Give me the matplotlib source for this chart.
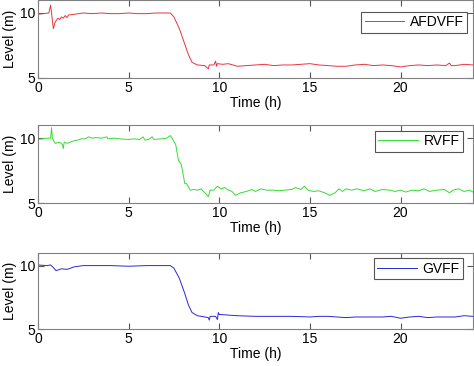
import matplotlib.pyplot as plt

# AFDVFF (red)
t_afd = [0, 0.3, 0.6, 0.7, 0.75, 0.85, 0.95, 1.1, 1.2, 1.3, 1.4, 1.5, 1.6, 1.7, 2.0,
         2.5, 3, 3.5, 4, 4.5, 5, 5.5, 6, 6.5, 7, 7.3, 7.5, 7.8, 8.1, 8.3, 8.5, 8.8,
         9.2, 9.4, 9.45, 9.7, 9.8, 9.85, 9.9, 10.2, 10.5, 11, 11.5, 12, 12.5, 13,
         13.5, 14, 14.5, 15, 15.5, 16, 16.5, 17, 17.5, 18, 18.5, 19, 19.5, 20,
         20.5, 21, 21.5, 22, 22.5, 22.7, 22.8, 23, 23.5, 24]
lvl_afd = [9.9, 9.95, 10.0, 10.6, 10.0, 8.8, 9.3, 9.6, 9.5, 9.7, 9.6, 9.8, 9.65, 9.85, 9.9,
           10.0, 9.95, 10.0, 9.95, 9.95, 10.0, 9.95, 9.95, 10.0, 10.0, 10.0, 9.7, 8.8, 7.6, 6.8, 6.2, 6.0,
           5.95, 5.7, 6.0, 6.0, 6.3, 5.9, 6.1, 6.05, 6.1, 5.9, 5.95, 6.0, 6.05, 5.95,
           6.0, 6.0, 6.05, 6.1, 6.0, 5.95, 5.9, 5.9, 6.0, 6.05, 5.95, 6.0, 5.95, 5.85,
           5.95, 6.0, 5.95, 6.0, 5.95, 6.15, 5.95, 5.95, 6.05, 6.0]

# RVFF (green)
t_rv = [0, 0.5, 0.7, 0.75, 0.8, 0.95, 1.2, 1.35, 1.4, 1.45, 1.6, 2.0, 2.2, 2.4, 2.6, 2.8,
        3.0, 3.2, 3.5, 3.8, 3.85, 4.2, 4.5, 5, 5.3, 5.6, 5.8, 5.9, 6.1, 6.3, 6.4, 6.8,
        7.1, 7.3, 7.4, 7.6, 7.75, 7.9, 8.0, 8.1, 8.2, 8.4, 8.6, 8.8, 9.0, 9.2, 9.4, 9.5,
        9.7, 9.9, 10.1, 10.3, 10.5, 10.7, 10.9, 11.2, 11.5, 11.8, 12, 12.3, 12.6, 13,
        13.3, 13.6, 14, 14.2, 14.5, 14.7, 14.9, 15.2, 15.5, 15.8, 16.1, 16.4, 16.6,
        16.8, 17.0, 17.3, 17.6, 18.0, 18.3, 18.6, 19.0, 19.4, 19.7, 20.0, 20.3, 20.6,
        21, 21.3, 21.6, 22.0, 22.4, 22.7, 22.9, 23.2, 23.5, 23.8, 24]
lvl_rv = [9.9, 10.0, 10.0, 10.8, 10.0, 9.6, 9.7, 9.5, 9.2, 9.7, 9.6, 9.8, 9.85, 9.95, 9.95, 10.1,
          10.0, 10.05, 10.0, 10.1, 9.95, 10.0, 9.95, 9.9, 9.95, 9.9, 10.1, 9.85, 9.9, 10.1, 9.9, 9.95,
          10.0, 10.2, 10.0, 9.5, 8.3, 8.0, 7.3, 6.5, 6.5, 6.0, 6.05, 6.0, 6.1, 5.8, 5.5, 6.0,
          6.0, 6.3, 6.1, 6.2, 6.0, 5.9, 5.6, 5.8, 5.9, 6.05, 5.9, 6.1, 6.0, 6.0,
          5.95, 6.0, 6.05, 6.2, 6.05, 6.3, 6.0, 5.9, 5.95, 5.8, 5.6, 5.8, 6.1,
          5.9, 6.1, 6.0, 6.1, 5.95, 6.1, 5.9, 6.05, 6.0, 5.9, 6.0, 5.85, 6.0,
          5.95, 6.1, 5.9, 6.0, 6.05, 5.8, 6.0, 6.1, 5.9, 6.0, 5.85]

# GVFF (blue)
t_gv = [0, 0.5, 0.7, 0.85, 1.0, 1.3, 1.6, 2.0, 2.5, 3, 4, 5, 6, 7, 7.3, 7.5, 7.8, 8.1,
        8.3, 8.5, 8.8, 9.2, 9.4, 9.45, 9.5, 9.8, 9.9, 9.95, 10.0, 10.5, 11, 12, 13, 14,
        15, 15.5, 16, 16.5, 17, 17.5, 18, 18.5, 19, 19.5, 20, 20.5, 21, 21.5, 22,
        22.5, 23, 23.5, 24]
lvl_gv = [10.05, 10.0, 10.05, 9.85, 9.6, 9.75, 9.7, 9.9, 10.0, 10.0, 10.0, 9.95, 10.0, 10.0, 10.0, 9.8, 9.0, 7.8,
          6.9, 6.3, 6.05, 5.95, 5.9, 5.7, 6.0, 6.0, 5.75, 6.3, 6.15, 6.1, 6.05, 6.0, 6.0, 6.0,
          5.95, 6.0, 6.0, 5.95, 5.9, 5.95, 5.95, 5.95, 5.95, 6.0, 5.85, 5.95, 6.0, 5.9, 5.95,
          5.95, 5.95, 6.05, 6.0]

series = [(t_afd, lvl_afd, '#e8343e', 'AFDVFF'),
          (t_rv, lvl_rv, '#33dd33', 'RVFF'),
          (t_gv, lvl_gv, '#2828d8', 'GVFF')]
positions = [[0.080, 0.787, 0.918, 0.213],
             [0.080, 0.445, 0.918, 0.213],
             [0.080, 0.101, 0.918, 0.208]]
legend_anchor = [(0.987, 0.85), (0.977, 0.93), (0.977, 0.93)]

plt.rcParams['font.family'] = 'Liberation Sans'
fig = plt.figure(figsize=(4.74, 3.66), dpi=100)

for (t, lvl, c, name), pos, anc in zip(series, positions, legend_anchor):
    ax = fig.add_axes(pos)
    ax.plot(t, lvl, color=c, linewidth=0.7, label=name)
    ax.set_xlim(0, 24)
    ax.set_ylim(5, 11)
    ax.set_xticks([0, 5, 10, 15, 20])
    ax.set_yticks([5, 10])
    ax.tick_params(direction='in', top=True, right=True, labelsize=10, length=4,
                   color='#555555', pad=2)
    for s in ax.spines.values():
        s.set_color('#808080')
    ax.set_xlabel('Time (h)', fontsize=10, labelpad=1)
    ax.set_ylabel('Level (m)', fontsize=10, labelpad=2)
    leg = ax.legend(loc='upper right', bbox_to_anchor=anc, fontsize=10, fancybox=False,
                    framealpha=1, handlelength=2.85, handletextpad=0.4,
                    borderpad=0.25, borderaxespad=0)
    leg.get_frame().set_edgecolor('#555555')
    leg.get_frame().set_linewidth(0.8)

fig.savefig('out.png', dpi=100)
